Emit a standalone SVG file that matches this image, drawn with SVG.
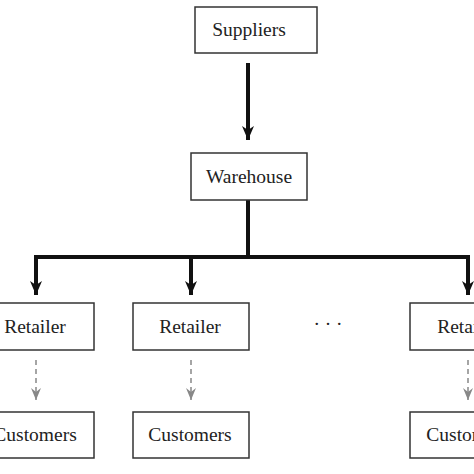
<svg xmlns="http://www.w3.org/2000/svg" width="474" height="474" viewBox="0 0 474 474">
<style>
.box{fill:#fff;stroke:#333;stroke-width:1.5}
.lbl{font-family:"Liberation Serif","DejaVu Serif",serif;font-size:19.5px;fill:#222;text-anchor:middle}
.thick{stroke:#111;stroke-width:4;fill:none}
.dash{stroke:#888;stroke-width:1.5;stroke-dasharray:5,4;fill:none}
</style>
<defs>
<marker id="ah" markerUnits="userSpaceOnUse" markerWidth="16" markerHeight="12" refX="14" refY="6" orient="auto" viewBox="0 0 16 12">
<path d="M0,0 L14,6 L0,12 L4,6 Z" fill="#111"/>
</marker>
<marker id="ahg" markerUnits="userSpaceOnUse" markerWidth="12" markerHeight="10" refX="12" refY="5" orient="auto" viewBox="0 0 12 10">
<path d="M0,0 L12,5 L0,10 L4,5 Z" fill="#888"/>
</marker>
</defs>
<rect width="474" height="474" fill="#fff"/>
<g id="connectors">
<line class="thick" x1="248" y1="63" x2="248" y2="140" marker-end="url(#ah)"/>
<polyline class="thick" points="248,200 248,257"/>
<polyline class="thick" points="36,257 468,257"/>
<line class="thick" x1="36" y1="255" x2="36" y2="295" marker-end="url(#ah)"/>
<line class="thick" x1="191" y1="257" x2="191" y2="295" marker-end="url(#ah)"/>
<line class="thick" x1="468" y1="255" x2="468" y2="295" marker-end="url(#ah)"/>
<line class="dash" x1="36" y1="360" x2="36" y2="400" marker-end="url(#ahg)"/>
<line class="dash" x1="191" y1="360" x2="191" y2="400" marker-end="url(#ahg)"/>
<line class="dash" x1="468" y1="360" x2="468" y2="400" marker-end="url(#ahg)"/>
</g>
<g id="suppliers"><rect class="box" x="195" y="7" width="122" height="46"/><text class="lbl" x="249" y="36">Suppliers</text></g>
<g id="warehouse"><rect class="box" x="191" y="153" width="116" height="47"/><text class="lbl" x="249" y="183">Warehouse</text></g>
<g id="retailer1"><rect class="box" x="-22" y="303" width="116" height="47"/><text class="lbl" x="35" y="333">Retailer</text></g>
<g id="retailer2"><rect class="box" x="133" y="303" width="116" height="47"/><text class="lbl" x="190" y="333">Retailer</text></g>
<g id="retailer3"><rect class="box" x="410" y="303" width="116" height="47"/><text class="lbl" x="468" y="333">Retailer</text></g>
<g id="customers1"><rect class="box" x="-22" y="412" width="116" height="46"/><text class="lbl" x="35" y="441">Customers</text></g>
<g id="customers2"><rect class="box" x="133" y="412" width="116" height="46"/><text class="lbl" x="190" y="441">Customers</text></g>
<g id="customers3"><rect class="box" x="410" y="412" width="116" height="46"/><text class="lbl" x="468" y="441">Customers</text></g>
<text class="lbl" x="328" y="330">· · ·</text>
</svg>
